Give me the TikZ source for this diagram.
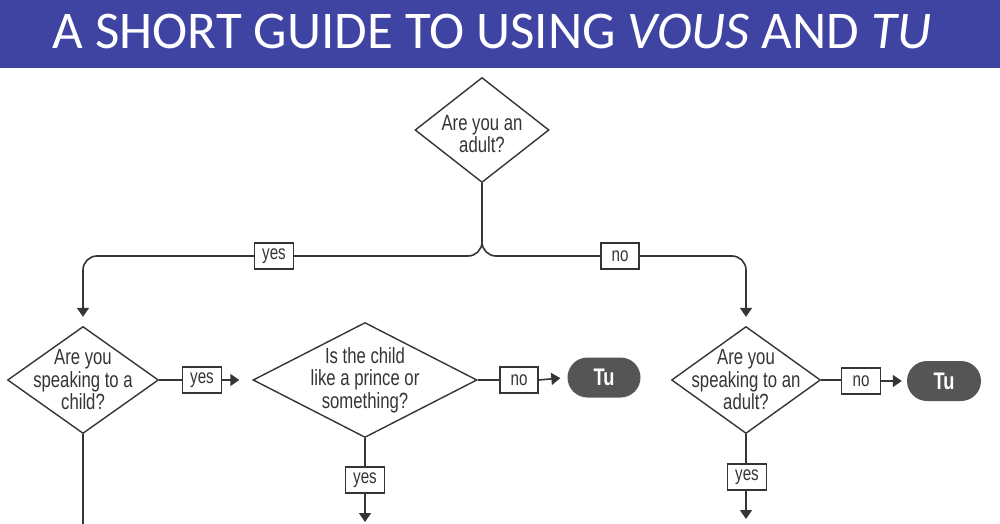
\documentclass[tikz,border=0pt]{standalone}
\usepackage{fontspec}
\usetikzlibrary{shapes.geometric,arrows.meta}
\newfontfamily\carlito{Carlito}
\newfontfamily\cond[FakeStretch=0.76]{Liberation Sans}
\definecolor{titleblue}{HTML}{3F44A3}
\definecolor{linegray}{HTML}{353535}
\definecolor{pillgray}{HTML}{555555}
\tikzset{
  conn/.style={draw=linegray, line width=1.6pt},
  arr/.style={conn, -{Triangle[width=12pt,length=9pt]}},
  dia/.style={diamond, draw=linegray, line width=1.4pt, inner sep=0pt, fill=white},
  diatext/.style={align=center, text=linegray, font=\cond\fontsize{22}{22.5}\selectfont},
  ansbox/.style={draw=linegray, line width=1.2pt, fill=white, inner sep=0pt,
    minimum width=39pt, minimum height=26pt, text=linegray,
    font=\cond\fontsize{20}{20}\selectfont},
  pill/.style={fill=pillgray, rounded corners=20pt, minimum width=73pt, minimum height=40pt,
    inner sep=0pt, text=white, font=\cond\bfseries\fontsize{24}{24}\selectfont},
}
\begin{document}
\begin{tikzpicture}[x=1pt,y=-1pt]
\useasboundingbox (0,0) rectangle (1000,524);
\fill[white] (0,0) rectangle (1000,524);
\fill[titleblue] (0,0) rectangle (1000,68);
\node[anchor=base, text=white, inner sep=0pt, font=\carlito\fontsize{53}{53}\selectfont] (title) at (492,49)
  {A SHORT GUIDE TO USING \textit{VOUS} AND \textit{TU}};

% diamonds
\node[dia, minimum width=134pt, minimum height=105pt,
  label={[diatext, yshift=-4pt]center:Are you an\\adult?}] (d0) at (482,130) {};
\node[dia, minimum width=151pt, minimum height=107pt,
  label={[diatext]center:Are you\\speaking to a\\child?}] (d1) at (83,380) {};
\node[dia, minimum width=224pt, minimum height=115pt,
  label={[diatext]center:Is the child\\like a prince or\\something?}] (d2) at (365,380) {};
\node[dia, minimum width=149pt, minimum height=107pt,
  label={[diatext]center:Are you\\speaking to an\\adult?}] (d3) at (746,380) {};

% coordinates for free ends
\coordinate (c1) at (83,524);
\coordinate (e2) at (365,522);
\coordinate (e3) at (746,519);

% connectors (drawn before boxes)
\draw[conn, rounded corners=14pt] (d0.south) |- (274,256);
\draw[conn, rounded corners=14pt] (d0.south) |- (620,256);
\draw[arr, rounded corners=14pt, shorten >=9pt] (274,256) -| (d1.north);
\draw[arr, rounded corners=14pt, shorten >=9pt] (620,256) -| (d3.north);

\draw[conn] (d1.east) -- (202,380);
\draw[arr, shorten >=13pt] (202,380) -- (d2.west);
\draw[conn] (d2.east) -- (519,380);
\draw[conn] (d3.east) -- (861,380);
\draw[conn] (d1.south) -- (c1);
\draw[conn] (d2.south) -- (365,480);
\draw[arr] (365,480) -- (e2);
\draw[conn] (d3.south) -- (746,477);
\draw[arr] (746,477) -- (e3);

% boxes
\node[ansbox] (yes0) at (274,256) {yes};
\node[ansbox, minimum width=38pt] (no0) at (620,256) {no};
\node[ansbox] (yes1) at (202,380) {yes};
\node[ansbox, minimum width=38pt] (no2) at (519,380) {no};
\node[ansbox] (yes2) at (365,480) {yes};
\node[ansbox, minimum width=39pt] (no3) at (861,381) {no};
\node[ansbox] (yes3) at (747,477) {yes};

% pills
\node[pill] (tu1) at (604,377.5) {Tu};
\node[pill, minimum width=74pt] (tu2) at (944,381) {Tu};

\draw[arr, shorten >=7pt] (no2.east) -- (tu1.west);
\draw[arr, shorten >=5pt] (no3.east) -- (tu2.west);
\end{tikzpicture}
\end{document}
